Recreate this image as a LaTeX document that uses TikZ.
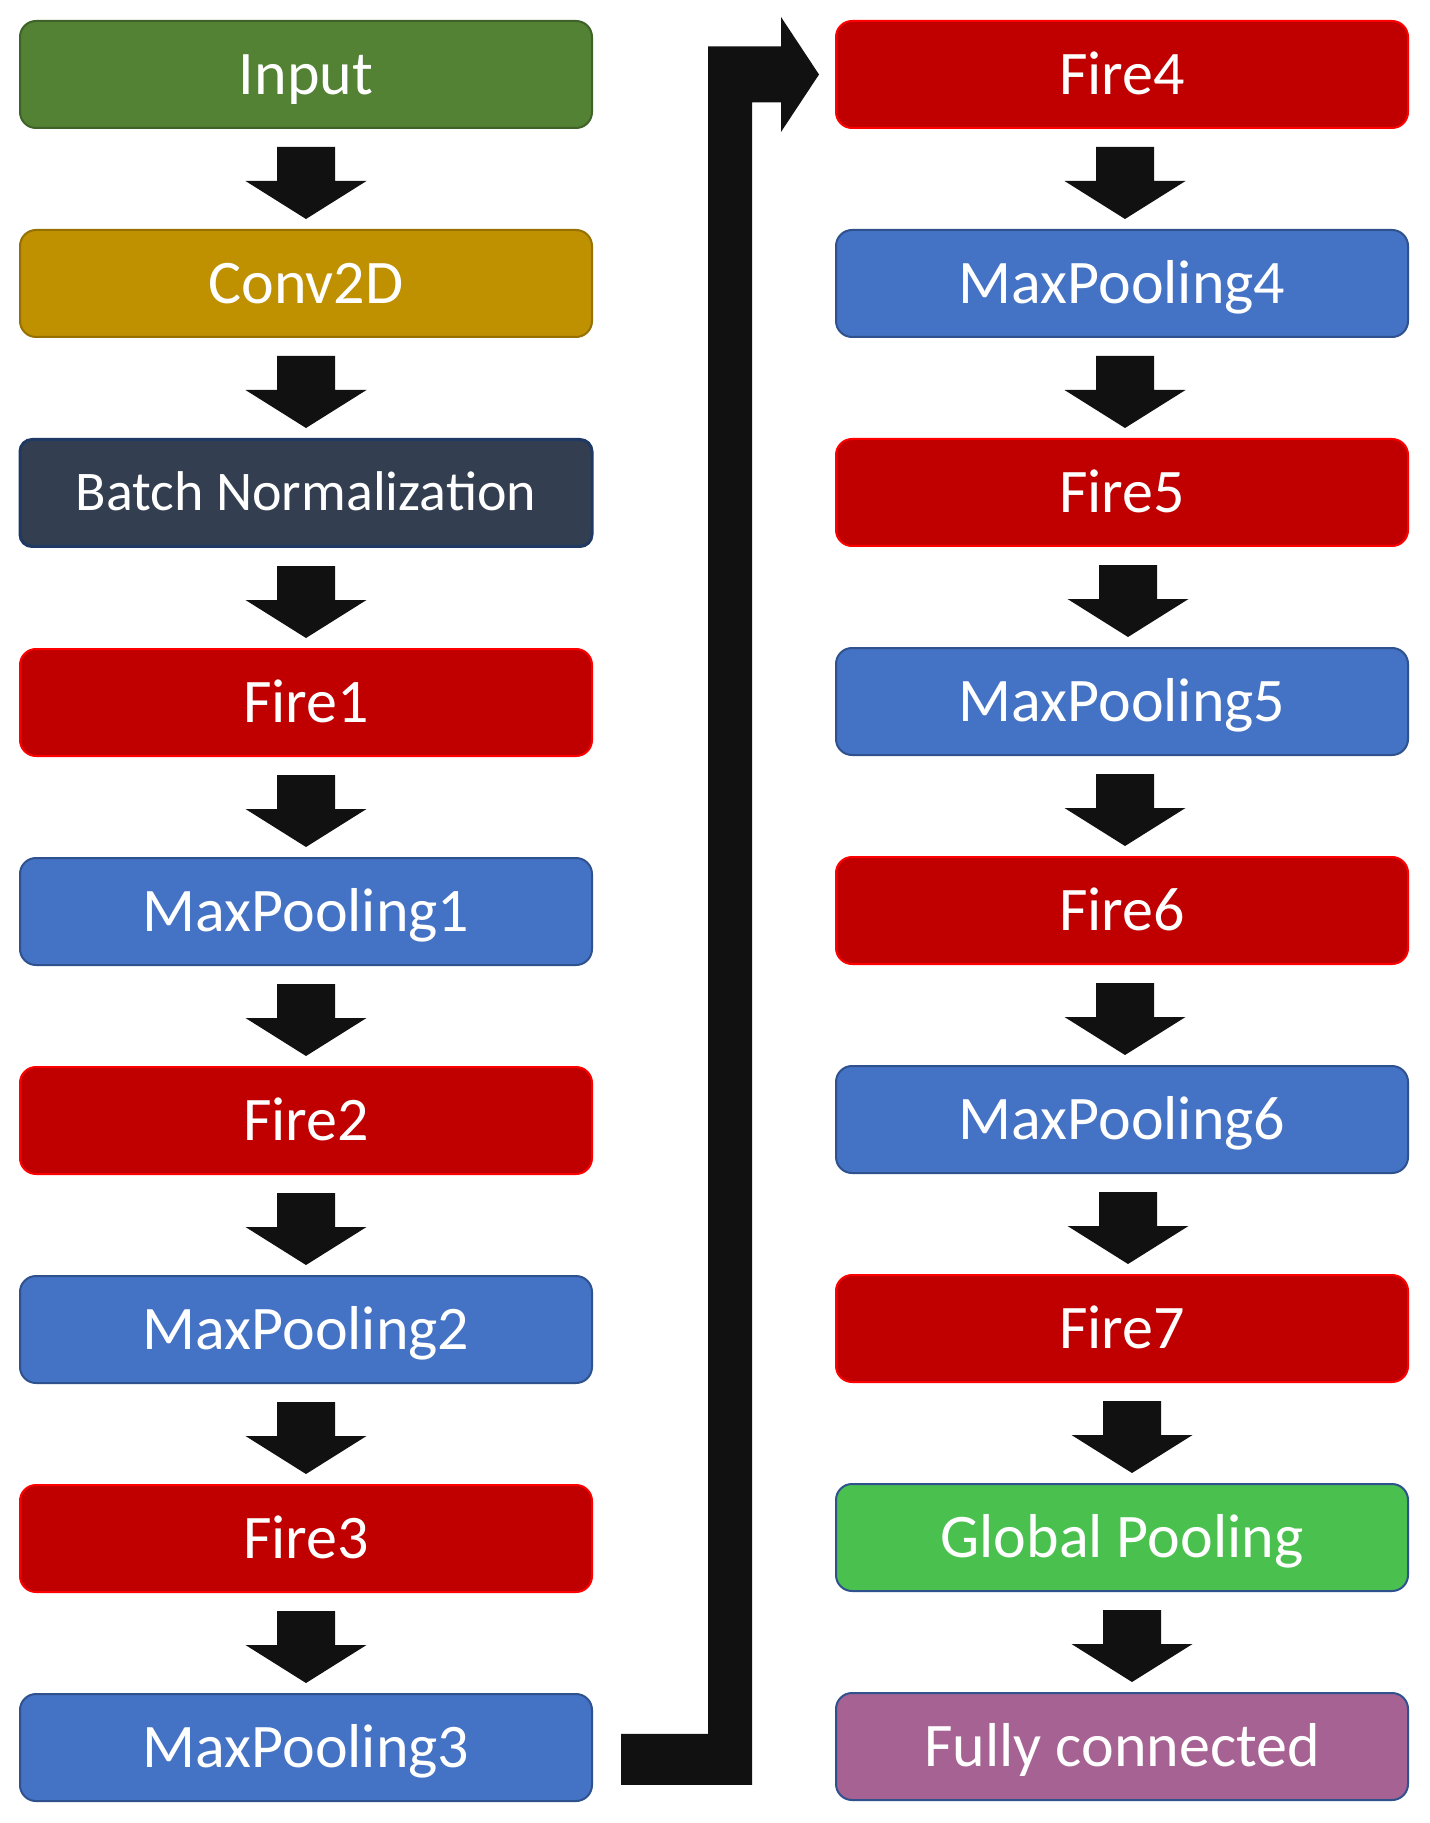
\documentclass[tikz,border=0pt]{standalone}
\usepackage{fontspec}
\setmainfont{Carlito}
\usetikzlibrary{calc,positioning}
\definecolor{inputgreen}{RGB}{84,130,53}
\definecolor{inputedge}{RGB}{62,98,40}
\definecolor{convgold}{RGB}{191,144,0}
\definecolor{convedge}{RGB}{150,112,0}
\definecolor{normslate}{RGB}{51,63,80}
\definecolor{normedge}{RGB}{31,56,100}
\definecolor{firered}{RGB}{192,0,0}
\definecolor{fireedge}{RGB}{255,0,0}
\definecolor{poolblue}{RGB}{68,114,196}
\definecolor{pooledge}{RGB}{47,82,143}
\definecolor{gpoolgreen}{RGB}{74,193,78}
\definecolor{fcpurple}{RGB}{166,98,146}
\definecolor{arrowblack}{RGB}{17,17,17}
\def\blockdown#1#2#3{\fill[arrowblack] ($(#1.south)+(#3-14.5pt,-9pt)$) -- ($(#1.south)+(#3+14.5pt,-9pt)$)
  -- ($(#2.north)+(#3+14.5pt,24pt)$) -- ($(#2.north)+(#3+30.25pt,24pt)$) -- ($(#2.north)+(#3,5pt)$)
  -- ($(#2.north)+(#3-30.25pt,24pt)$) -- ($(#2.north)+(#3-14.5pt,24pt)$) -- cycle;}

\begin{document}
\begin{tikzpicture}[node distance=50pt,
  layer/.style={rectangle,rounded corners=8pt,minimum width=286pt,minimum height=53.5pt,
    line width=1pt,text=white,font=\fontsize{31}{36}\selectfont,text height=20pt,text depth=0pt},
  inputbox/.style={layer,fill=inputgreen,draw=inputedge},
  convbox/.style={layer,fill=convgold,draw=convedge},
  normbox/.style={layer,rounded corners=6pt,fill=normslate,draw=normedge,line width=1.5pt,
    font=\fontsize{28}{33}\selectfont,text height=18pt},
  firebox/.style={layer,fill=firered,draw=fireedge},
  poolbox/.style={layer,fill=poolblue,draw=pooledge},
  gpoolbox/.style={layer,fill=gpoolgreen,draw=pooledge},
  fcbox/.style={layer,fill=fcpurple,draw=pooledge}]
\fill[white] (0,0) rectangle (714.5pt,-911.5pt);
\useasboundingbox (0,0) rectangle (714.5pt,-911.5pt);
% left column
\node[inputbox] (input) at (153pt,-37.25pt) {Input};
\node[convbox,below=of input] (conv) {Conv2D};
\node[normbox,below=of conv] (bnorm) {Batch Normalization};
\node[firebox,below=of bnorm] (fire1) {Fire1};
\node[poolbox,below=of fire1] (pool1) {MaxPooling1};
\node[firebox,below=of pool1] (fire2) {Fire2};
\node[poolbox,below=of fire2] (pool2) {MaxPooling2};
\node[firebox,below=of pool2] (fire3) {Fire3};
\node[poolbox,below=of fire3] (pool3) {MaxPooling3};
% right column
\node[firebox] (fire4) at (561pt,-37.25pt) {Fire4};
\node[poolbox,below=of fire4] (pool4) {MaxPooling4};
\node[firebox,below=of pool4] (fire5) {Fire5};
\node[poolbox,below=of fire5] (pool5) {MaxPooling5};
\node[firebox,below=of pool5] (fire6) {Fire6};
\node[poolbox,below=of fire6] (pool6) {MaxPooling6};
\node[firebox,below=of pool6] (fire7) {Fire7};
\node[gpoolbox,below=of fire7] (gpool) {Global Pooling};
\node[fcbox,below=of gpool] (fc) {Fully connected};
% arrows
\foreach \a/\b/\dx in {input/conv/0pt,conv/bnorm/0pt,bnorm/fire1/0pt,fire1/pool1/0pt,
  pool1/fire2/0pt,fire2/pool2/0pt,pool2/fire3/0pt,fire3/pool3/0pt,
  fire4/pool4/1.5pt,pool4/fire5/1.5pt,fire5/pool5/3pt,pool5/fire6/1.5pt,
  fire6/pool6/1.5pt,pool6/fire7/3pt,fire7/gpool/5pt,gpool/fc/5pt}
  \blockdown{\a}{\b}{\dx};
% bent arrow from pool3 up to fire4
\coordinate (rise) at ($(pool3.east)+(57.5pt,0)$);
\fill[arrowblack] ($(pool3.east)+(14pt,6.85pt)$) -- ($(rise)+(0,6.85pt)$)
  -- ($(rise |- fire4.west)+(0,14pt)$) -- ($(fire4.west)+(-27pt,14pt)$)
  -- ($(fire4.west)+(-27pt,28.75pt)$) -- ($(fire4.west)+(-8pt,0)$)
  -- ($(fire4.west)+(-27pt,-28.75pt)$) -- ($(fire4.west)+(-27pt,-14pt)$)
  -- ($(rise |- fire4.west)+(22pt,-14pt)$) -- ($(rise)+(22pt,-18.65pt)$)
  -- ($(pool3.east)+(14pt,-18.65pt)$) -- cycle;
\end{tikzpicture}
\end{document}
